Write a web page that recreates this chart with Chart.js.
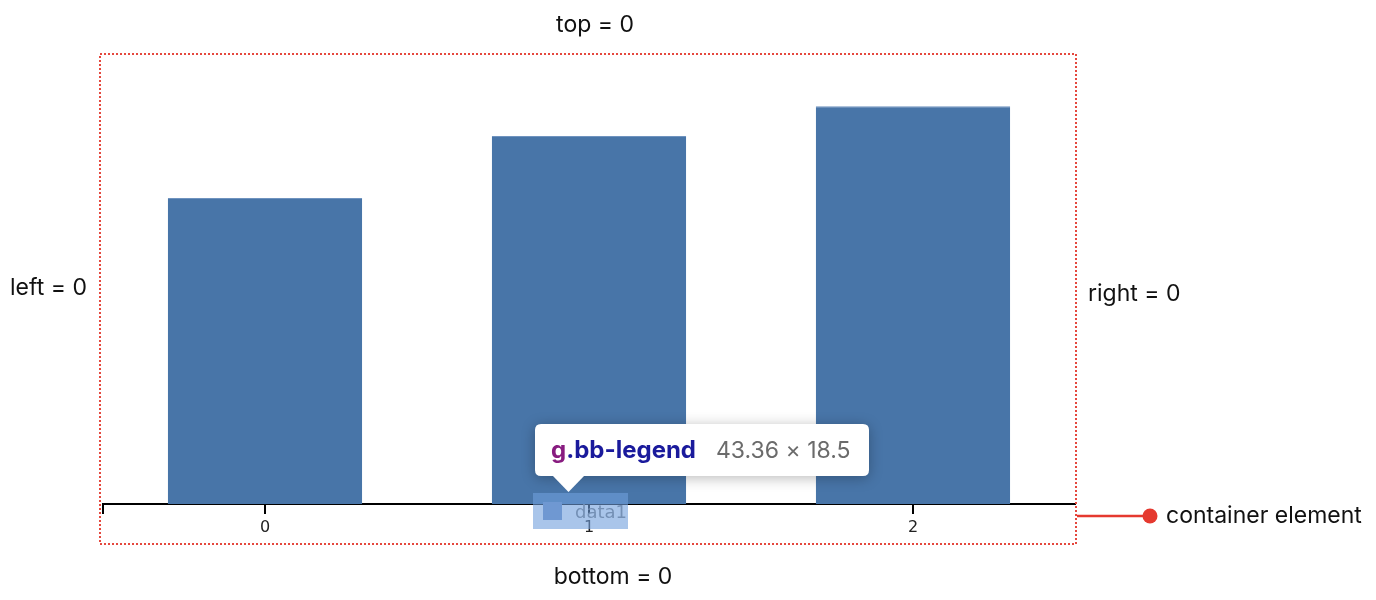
<!DOCTYPE html>
<html>
<head>
<meta charset="utf-8">
<script src="https://cdn.jsdelivr.net/npm/chart.js@4.4.0/dist/chart.umd.min.js"></script>
<style>
  html, body { margin: 0; padding: 0; background: #fff; }
  #wrap { width: 1376px; height: 600px; position: relative; }
</style>
</head>
<body>
<div id="wrap"><canvas id="myChart" width="1376" height="600"></canvas></div>
<script>
const categories = ["0", "1", "2"];
const data1 = [68, 81.8, 88.4];
const seriesName = "data1";

const annotationLabels = {
  top: "top = 0",
  bottom: "bottom = 0",
  left: "left = 0",
  right: "right = 0",
  container: "container element",
};
const inspectorTag = "g";
const inspectorClass = ".bb-legend";
const inspectorSize = "43.36 × 18.5";

const barColor = "#4875a8";
const red = "#e5392f";

function roundRect(ctx, x, y, w, h, r) {
  ctx.beginPath();
  ctx.moveTo(x + r, y);
  ctx.lineTo(x + w - r, y);
  ctx.quadraticCurveTo(x + w, y, x + w, y + r);
  ctx.lineTo(x + w, y + h - r);
  ctx.quadraticCurveTo(x + w, y + h, x + w - r, y + h);
  ctx.lineTo(x + r, y + h);
  ctx.quadraticCurveTo(x, y + h, x, y + h - r);
  ctx.lineTo(x, y + r);
  ctx.quadraticCurveTo(x, y, x + r, y);
  ctx.closePath();
}

// annotations drawn around the chart area (container box, labels, devtools tooltip)
const overlay = {
  id: "overlay",
  afterDraw(chart) {
    const ctx = chart.ctx;
    const area = chart.chartArea;
    const xScale = chart.scales.x;
    ctx.save();

    // left edge tick of the axis path
    ctx.strokeStyle = "#000";
    ctx.lineWidth = 2;
    ctx.beginPath();
    ctx.moveTo(area.left, area.bottom);
    ctx.lineTo(area.left, area.bottom + 10);
    ctx.stroke();

    // dotted container box
    const box = { l: area.left - 3, t: area.top, r: area.right + 1, b: 544 };
    ctx.strokeStyle = "#e5483e";
    ctx.lineWidth = 2;
    ctx.setLineDash([2, 2]);
    ctx.strokeRect(box.l, box.t, box.r - box.l, box.b - box.t);
    ctx.setLineDash([]);

    // pointer to container
    ctx.strokeStyle = red;
    ctx.lineWidth = 2.5;
    ctx.beginPath();
    ctx.moveTo(box.r + 1, 516);
    ctx.lineTo(1150, 516);
    ctx.stroke();
    ctx.fillStyle = red;
    ctx.beginPath();
    ctx.arc(1150, 516, 7.5, 0, Math.PI * 2);
    ctx.fill();

    // annotation texts
    ctx.fillStyle = "#111";
    ctx.font = "23px Inter, sans-serif";
    ctx.textBaseline = "middle";
    ctx.textAlign = "center";
    ctx.fillText(annotationLabels.top, 595, 25);
    ctx.fillText(annotationLabels.bottom, 613, 577);
    ctx.textAlign = "left";
    ctx.fillText(annotationLabels.left, 10, 288);
    ctx.fillText(annotationLabels.right, 1088, 294);
    ctx.fillText(annotationLabels.container, 1166, 516);

    // legend item with inspector highlight
    const cx = xScale.getPixelForValue(1);
    const lx = cx - 56;
    ctx.fillStyle = "#6f8fc4";
    ctx.fillRect(lx + 10, 502, 19, 18);
    ctx.fillStyle = "#7a7a7a";
    ctx.font = "18px 'DejaVu Sans', sans-serif";
    ctx.fillText(seriesName, lx + 42, 513);
    ctx.fillStyle = "rgba(111,158,220,0.6)";
    ctx.fillRect(lx, 493, 95, 36);

    // devtools tooltip
    ctx.save();
    ctx.shadowColor = "rgba(0,0,0,0.28)";
    ctx.shadowBlur = 14;
    ctx.shadowOffsetY = 2;
    ctx.fillStyle = "#fff";
    roundRect(ctx, 535, 424, 334, 52, 6);
    ctx.fill();
    ctx.restore();
    ctx.fillStyle = "#fff";
    ctx.beginPath();
    ctx.moveTo(552, 475);
    ctx.lineTo(585, 475);
    ctx.lineTo(568.5, 492);
    ctx.closePath();
    ctx.fill();

    ctx.font = "bold 24px Inter, sans-serif";
    ctx.textBaseline = "middle";
    ctx.fillStyle = "#881c80";
    ctx.fillText(inspectorTag, 551, 451);
    const gw = ctx.measureText(inspectorTag).width;
    ctx.fillStyle = "#1a1a9c";
    ctx.fillText(inspectorClass, 551 + gw, 451);
    ctx.font = "23px Inter, sans-serif";
    ctx.fillStyle = "#6b6b6b";
    ctx.fillText(inspectorSize, 716, 451);

    ctx.restore();
  },
};

const ctx = document.getElementById("myChart").getContext("2d");
new Chart(ctx, {
  type: "bar",
  data: {
    labels: categories,
    datasets: [
      {
        label: seriesName,
        data: data1,
        backgroundColor: barColor,
        borderColor: "#6f93bf",
        borderWidth: { top: 1, left: 0, right: 0, bottom: 0 },
        barPercentage: 0.6,
        categoryPercentage: 1.0,
      },
    ],
  },
  plugins: [overlay],
  options: {
    responsive: false,
    animation: false,
    layout: { padding: { left: 103, right: 301, top: 54, bottom: 56 } },
    plugins: {
      legend: { display: false },
      tooltip: { enabled: false },
    },
    scales: {
      x: {
        offset: true,
        grid: {
          offset: false,
          drawOnChartArea: false,
          drawTicks: true,
          tickLength: 10,
          color: "#000",
          lineWidth: 2,
        },
        border: { display: true, color: "#000", width: 2 },
        ticks: {
          color: "#222",
          padding: 4,
          font: { family: "'DejaVu Sans', sans-serif", size: 16 },
        },
        afterFit(scale) {
          scale.height = 40;
        },
      },
      y: {
        display: false,
        min: 0,
        max: 100,
      },
    },
  },
});
</script>
</body>
</html>
